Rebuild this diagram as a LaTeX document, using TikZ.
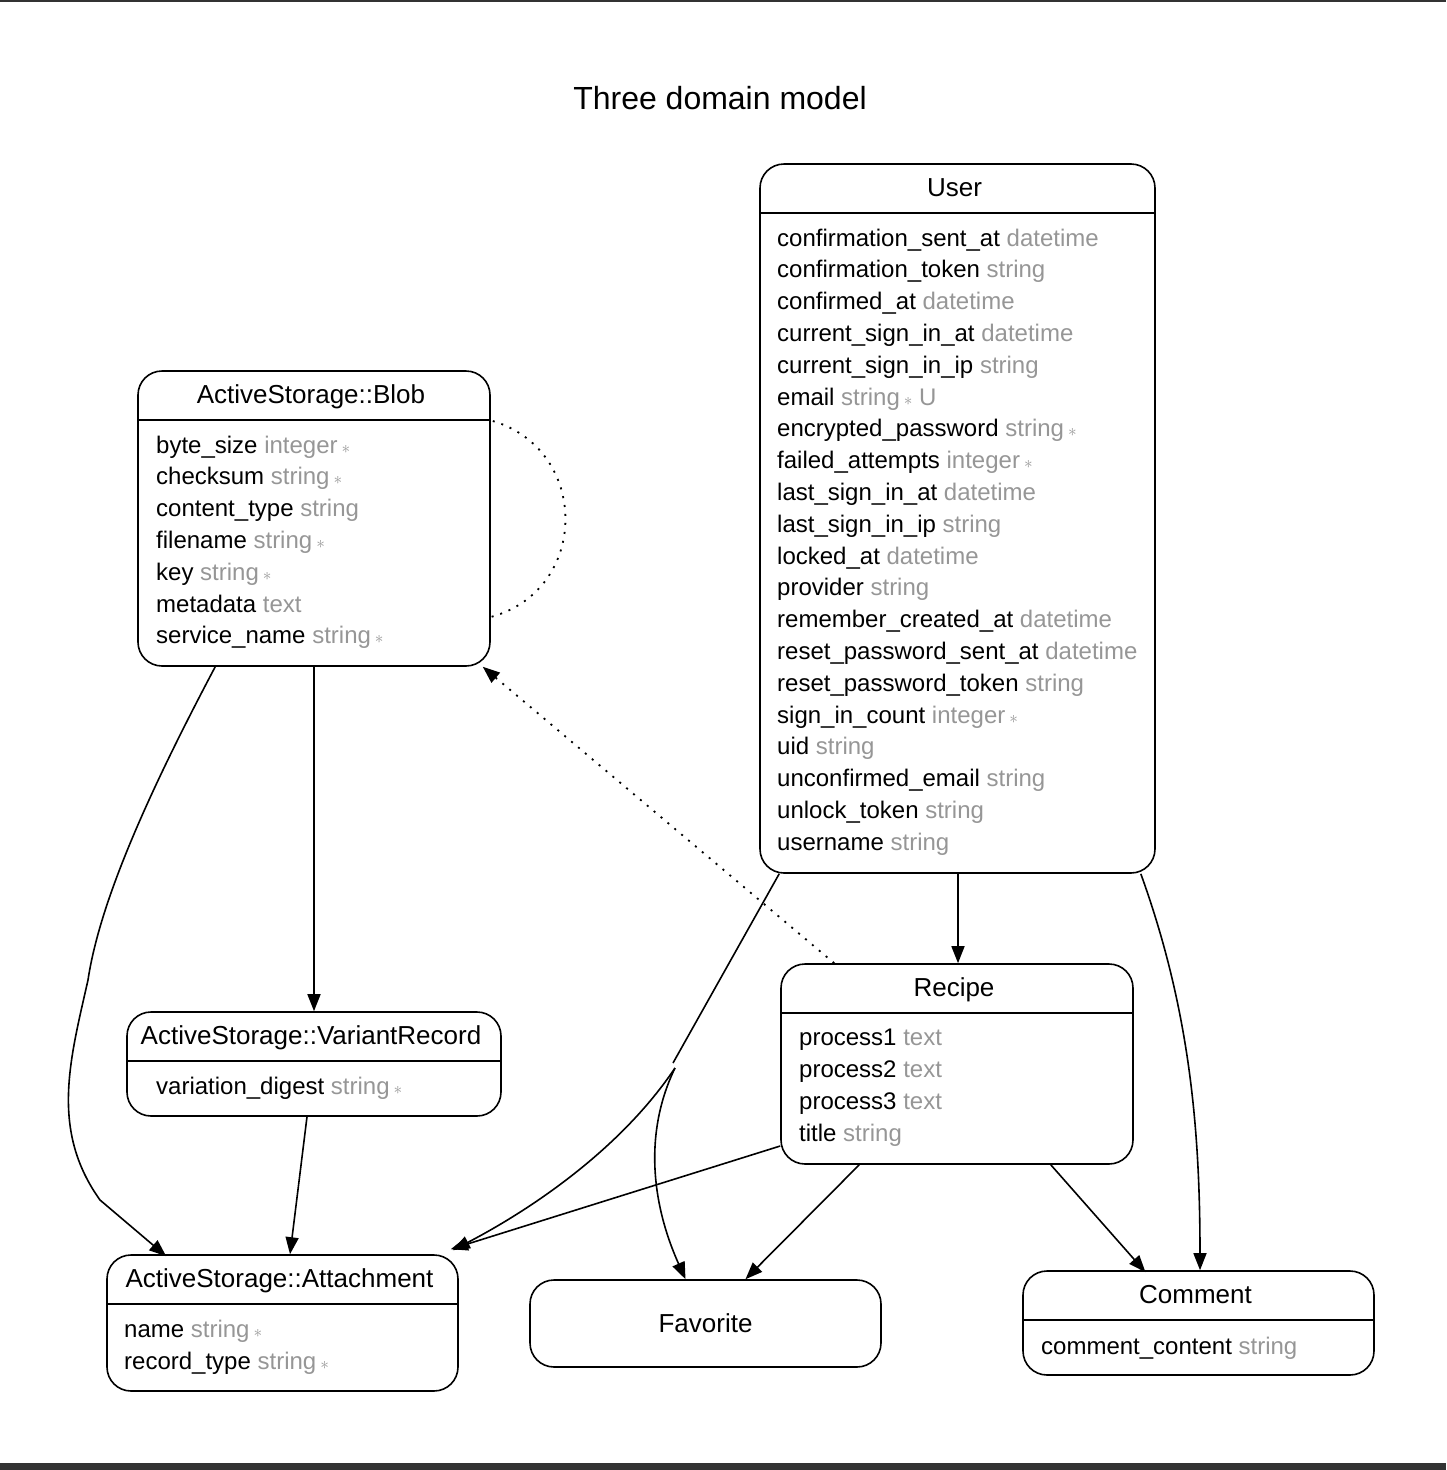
\documentclass[tikz,border=0pt]{standalone}
\usepackage{fontspec}
\setmainfont{Liberation Sans}
\usetikzlibrary{arrows.meta}
\definecolor{ty}{RGB}{150,150,150}
\newcommand{\st}{\,{\fontsize{16}{16}\selectfont$\ast$}}
\begin{document}
\begin{tikzpicture}[x=1pt,y=-1pt,
  box/.style={draw,line width=1.6pt,rounded corners=24pt,inner sep=0pt},
  ttl/.style={font=\fontsize{26}{26}\selectfont,anchor=base},
  att/.style={font=\fontsize{24}{24}\selectfont,anchor=base west,inner sep=0pt},
  e/.style={line width=1.6pt,-{Triangle[length=17pt,width=13pt]}},
  d/.style={line width=1.8pt,dash pattern=on 2pt off 7pt}]
\useasboundingbox (0,0) rectangle (1446,1470);
\fill[black!80] (0,0) rectangle (1446,2);
\fill[black!80] (0,1463) rectangle (1446,1470);
\node[font=\fontsize{32}{32}\selectfont] (title) at (720,98) {Three domain model};
% boxes
\newcommand{\ent}[7]{% name x1 y1 x2 y2 divider title
  \node[box,minimum width=#4-#2,minimum height=#5-#3] (#1) at ({(#2+#4)/2},{(#3+#5)/2}) {};
  \draw[line width=1.6pt] (#2,#6) -- (#4,#6);
  \node[ttl] (#1t) at ({(#2+#4)/2-3},#6-17) {#7};}
\newcommand{\at}[3]{\node[att] at (#1,#2+8) {#3};}
\ent{user}{760}{164}{1155}{873}{213}{User}
\foreach \n [count=\i from 0] in {
 confirmation\_sent\_at \textcolor{ty}{datetime},
 confirmation\_token \textcolor{ty}{string},
 confirmed\_at \textcolor{ty}{datetime},
 current\_sign\_in\_at \textcolor{ty}{datetime},
 current\_sign\_in\_ip \textcolor{ty}{string},
 email \textcolor{ty}{string\st{} U},
 encrypted\_password \textcolor{ty}{string\st},
 failed\_attempts \textcolor{ty}{integer\st},
 last\_sign\_in\_at \textcolor{ty}{datetime},
 last\_sign\_in\_ip \textcolor{ty}{string},
 locked\_at \textcolor{ty}{datetime},
 provider \textcolor{ty}{string},
 remember\_created\_at \textcolor{ty}{datetime},
 reset\_password\_sent\_at \textcolor{ty}{datetime},
 reset\_password\_token \textcolor{ty}{string},
 sign\_in\_count \textcolor{ty}{integer\st},
 uid \textcolor{ty}{string},
 unconfirmed\_email \textcolor{ty}{string},
 unlock\_token \textcolor{ty}{string},
 username \textcolor{ty}{string}}
 {\at{777}{238+31.8*\i}{\n}}
\ent{blob}{138}{371}{490}{666}{420}{ActiveStorage::Blob}
\foreach \n [count=\i from 0] in {
 byte\_size \textcolor{ty}{integer\st},
 checksum \textcolor{ty}{string\st},
 content\_type \textcolor{ty}{string},
 filename \textcolor{ty}{string\st},
 key \textcolor{ty}{string\st},
 metadata \textcolor{ty}{text},
 service\_name \textcolor{ty}{string\st}}
 {\at{156}{445+31.8*\i}{\n}}
\ent{vr}{127}{1012}{501}{1116}{1061}{ActiveStorage::VariantRecord}
\at{156}{1086}{variation\_digest \textcolor{ty}{string\st}}
\ent{att}{107}{1255}{458}{1391}{1304}{ActiveStorage::Attachment}
\at{124}{1329}{name \textcolor{ty}{string\st}}
\at{124}{1361}{record\_type \textcolor{ty}{string\st}}
\node[box,minimum width=351,minimum height=87,font=\fontsize{26}{26}\selectfont] (fav) at (705.5,1323.5) {Favorite};
\ent{rec}{781}{964}{1133}{1164}{1013}{Recipe}
\foreach \n [count=\i from 0] in {
 process1 \textcolor{ty}{text},
 process2 \textcolor{ty}{text},
 process3 \textcolor{ty}{text},
 title \textcolor{ty}{string}}
 {\at{799}{1037+32*\i}{\n}}
\ent{com}{1023}{1271}{1374}{1375}{1320}{Comment}
\at{1041}{1346}{comment\_content \textcolor{ty}{string}}
% edges
\draw[d] ([xshift=2pt,yshift=-1pt]blob.east |- 0,420) .. controls (590,450) and (590,590) .. ([yshift=0]blob.east |- 0,617);
\draw[e] ([xshift=78pt]blob.south west) .. controls (150,790) and (100,900) .. (88,980) .. controls (70,1060) and (50,1130) .. (100,1200) -- ([xshift=60pt,yshift=-2pt]att.north west);
\draw[e] (blob.south -| 314,0) -- (vr.north -| 314,0);
\draw[e] (vr.south -| 307,0) -- (att.north -| 290,0);
\draw[line width=1.6pt] ([xshift=20pt]user.south west) -- (673,1063);
\draw[e] (675,1068) .. controls (620,1150) and (530,1210) .. ([xshift=-6pt,yshift=4pt]att.north east);
\draw[e] (675,1068) .. controls (645,1130) and (650,1200) .. ([xshift=-20pt]fav.north);
\draw[e] (user.south -| 958,0) -- (rec.north -| 958,0);
\draw[e] ([xshift=-15pt]user.south east) .. controls (1190,1010) and (1200,1130) .. (com.north -| 1200,0);
\draw[d,-{Triangle[length=17pt,width=13pt]}] ([xshift=54pt]rec.north west) -- ([xshift=-8pt,yshift=0pt]blob.south east);
\draw[e] (rec.west |- 0,1146) -- ([xshift=-8pt,yshift=5pt]att.north east);
\draw[e] ([xshift=79pt]rec.south west) -- ([xshift=40pt]fav.north);
\draw[e] ([xshift=-83pt]rec.south east) -- ([xshift=-53pt,yshift=-2pt]com.north);
\end{tikzpicture}
\end{document}
